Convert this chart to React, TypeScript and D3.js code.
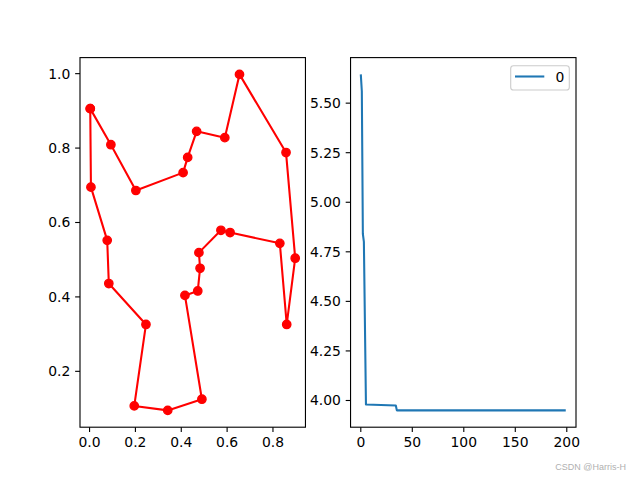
import React, { useRef, useEffect } from 'react'
import * as d3 from 'd3'

// tour of the cities (closed: the first city is repeated at the end)
const cityX = [0.003, 0.093, 0.202, 0.408, 0.428, 0.467, 0.59, 0.654, 0.857, 0.897, 0.86, 0.83, 0.613, 0.573, 0.477, 0.482, 0.472, 0.416, 0.49, 0.341, 0.195, 0.246, 0.084, 0.077, 0.006, 0.003]
const cityY = [0.906, 0.809, 0.686, 0.734, 0.775, 0.845, 0.828, 0.998, 0.788, 0.504, 0.326, 0.544, 0.573, 0.579, 0.519, 0.477, 0.416, 0.404, 0.125, 0.095, 0.107, 0.326, 0.436, 0.552, 0.695, 0.906]

// best cost per iteration (only the points where it changes, plus the last one)
const iterations = [0, 1, 2, 3, 5, 34, 35, 199]
const costs = [5.645, 5.56, 4.84, 4.8, 3.98, 3.975, 3.95, 3.95]

const leftXTicks = [0.0, 0.2, 0.4, 0.6, 0.8]
const leftYTicks = [0.2, 0.4, 0.6, 0.8, 1.0]
const rightXTicks = [0, 50, 100, 150, 200]
const rightYTicks = [4.0, 4.25, 4.5, 4.75, 5.0, 5.25, 5.5]
const legendLabels = ['0']

const W = 640
const H = 480
const FONT = 'DejaVu Sans, sans-serif'
const TICK = 4.86

const padded = (vals: number[]): [number, number] => {
    const [lo, hi] = d3.extent(vals) as [number, number]
    const p = (hi - lo) * 0.05
    return [lo - p, hi + p]
}

const App: React.FC = () => {
    const svgRef = useRef<SVGSVGElement>(null)

    useEffect(() => {
        if (!svgRef.current) return
        const svg = d3.select(svgRef.current)
        svg.selectAll('*').remove()

        const top = 57.6
        const bottom = 427.2
        const left1 = 80
        const right1 = 305.45
        const left2 = 350.55
        const right2 = 576

        const drawAxes = (
            x: d3.ScaleLinear<number, number>,
            y: d3.ScaleLinear<number, number>,
            xt: number[],
            yt: number[],
            xf: (n: number) => string,
            yf: (n: number) => string,
        ) => {
            const g = svg.append('g')
            const [x0, x1] = x.range()
            // x ticks
            xt.forEach((t) => {
                const px = x(t)
                g.append('line').attr('x1', px).attr('x2', px).attr('y1', bottom).attr('y2', bottom + TICK)
                    .attr('stroke', '#000').attr('stroke-width', 1.11)
                g.append('text').attr('x', px).attr('y', bottom + TICK + 4.86).attr('dy', '0.76em')
                    .attr('text-anchor', 'middle').attr('font-family', FONT).attr('font-size', 13.9)
                    .attr('fill', '#000').text(xf(t))
            })
            yt.forEach((t) => {
                const py = y(t)
                g.append('line').attr('x1', x0 - TICK).attr('x2', x0).attr('y1', py).attr('y2', py)
                    .attr('stroke', '#000').attr('stroke-width', 1.11)
                g.append('text').attr('x', x0 - TICK - 4.86).attr('y', py).attr('dy', '0.36em')
                    .attr('text-anchor', 'end').attr('font-family', FONT).attr('font-size', 13.9)
                    .attr('fill', '#000').text(yf(t))
            })
            g.append('rect').attr('x', x0).attr('y', top).attr('width', x1 - x0).attr('height', bottom - top)
                .attr('fill', 'none').attr('stroke', '#000').attr('stroke-width', 1.11)
        }

        // left panel: the tour
        const x1s = d3.scaleLinear().domain(padded(cityX)).range([left1, right1])
        const y1s = d3.scaleLinear().domain(padded(cityY)).range([bottom, top])
        const pts = cityX.map((v, i) => [v, cityY[i]] as [number, number])
        const tour = svg.append('g')
        tour.append('path')
            .attr('d', d3.line<[number, number]>().x((d) => x1s(d[0])).y((d) => y1s(d[1]))(pts))
            .attr('fill', 'none').attr('stroke', '#ff0000').attr('stroke-width', 2.08)
            .attr('stroke-linejoin', 'round')
        tour.selectAll('circle').data(pts).enter().append('circle')
            .attr('cx', (d) => x1s(d[0])).attr('cy', (d) => y1s(d[1])).attr('r', 4.17)
            .attr('fill', '#ff0000').attr('stroke', '#ff0000').attr('stroke-width', 1.39)
        drawAxes(x1s, y1s, leftXTicks, leftYTicks, d3.format('.1f'), d3.format('.1f'))

        // right panel: cost curve
        const x2s = d3.scaleLinear().domain(padded(iterations)).range([left2, right2])
        const y2s = d3.scaleLinear().domain(padded(costs)).range([bottom, top])
        const cpts = iterations.map((v, i) => [v, costs[i]] as [number, number])
        svg.append('path')
            .attr('d', d3.line<[number, number]>().x((d) => x2s(d[0])).y((d) => y2s(d[1]))(cpts))
            .attr('fill', 'none').attr('stroke', '#1f77b4').attr('stroke-width', 2.08)
            .attr('stroke-linejoin', 'round')
        drawAxes(x2s, y2s, rightXTicks, rightYTicks, d3.format('d'), d3.format('.2f'))

        // legend
        const lg = svg.append('g')
        lg.append('rect').attr('x', 510.7).attr('y', 65.7).attr('width', 58.6).attr('height', 24.3)
            .attr('rx', 2.8).attr('fill', '#fff').attr('fill-opacity', 0.8)
            .attr('stroke', '#cccccc').attr('stroke-width', 1.11)
        lg.append('line').attr('x1', 515).attr('x2', 544.3).attr('y1', 76.5).attr('y2', 76.5)
            .attr('stroke', '#1f77b4').attr('stroke-width', 2.08)
        lg.append('text').attr('x', 555.5).attr('y', 76.5).attr('dy', '0.36em')
            .attr('font-family', FONT).attr('font-size', 13.9).attr('fill', '#000').text(legendLabels[0])

        // watermark
        svg.append('text').attr('x', 626).attr('y', 466.5).attr('dy', '0.36em').attr('text-anchor', 'end')
            .attr('font-family', 'Liberation Sans, Arial, sans-serif').attr('font-size', 9)
            .attr('fill', '#b0b0b0').text('CSDN @Harris-H')
    }, [])

    return (
        <svg
            ref={svgRef}
            width={W}
            height={H}
            style={{ position: 'absolute', left: 0, top: 0, background: '#fff' }}
        />
    )
}

export default App
